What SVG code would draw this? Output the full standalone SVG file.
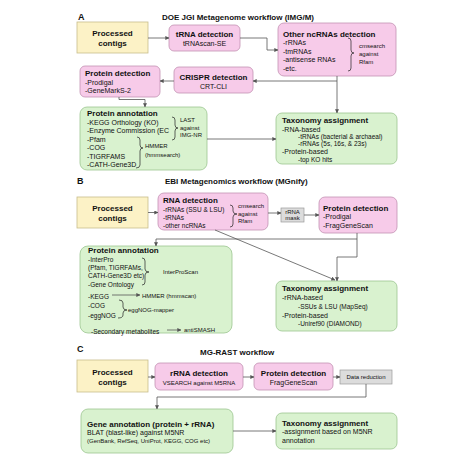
<svg xmlns="http://www.w3.org/2000/svg" width="474" height="459" viewBox="0 0 474 459">
<style>
text{font-family:"Liberation Sans",Arial,sans-serif;fill:#111}
.sec{font-size:9px;font-weight:bold}
.ttl{font-size:8px;font-weight:bold}
.t7{font-size:7px}
.t65{font-size:6.5px}
.t6{font-size:6px}
.c{text-anchor:middle}
.yel{fill:#fcf2c6;stroke:#c9bd8c;stroke-width:0.8}
.pink{fill:#f7cbe9;stroke:#c392b3;stroke-width:0.8}
.green{fill:#d9f2cf;stroke:#9cc590;stroke-width:0.8}
.gray{fill:#dcdcdc;stroke:#9a9a9a;stroke-width:0.7}
.ln{fill:none;stroke:#555;stroke-width:0.8}
.br{fill:none;stroke:#222;stroke-width:0.7}
</style>
<defs>
<marker id="ah" viewBox="0 0 6 6" refX="5.5" refY="3" markerWidth="4" markerHeight="4" markerUnits="userSpaceOnUse" orient="auto">
<path d="M0,0 L6,3 L0,6 z" fill="#555"/>
</marker>
</defs>

<!-- Section A -->
<text class="sec" x="78" y="19.5">A</text>
<text class="ttl" x="162" y="20">DOE JGI Metagenome workflow (IMG/M)</text>

<g id="a-processed">
<rect class="yel" x="77" y="22" width="71" height="31"/>
<text class="ttl c" x="112.5" y="36">Processed</text>
<text class="ttl c" x="112.5" y="46">contigs</text>
</g>
<g id="a-trna">
<rect class="pink" x="169" y="25" width="71" height="26" rx="5"/>
<text class="ttl c" x="204.5" y="37">tRNA detection</text>
<text class="t7 c" x="204.5" y="46">tRNAscan-SE</text>
</g>
<g id="a-ncrna">
<rect class="pink" x="278" y="23" width="118" height="53" rx="6"/>
<text class="ttl" x="283" y="37">Other ncRNAs detection</text>
<text class="t7" x="283" y="45">-rRNAs</text>
<text class="t7" x="283" y="53.5">-tmRNAs</text>
<text class="t7" x="283" y="62">-antisense RNAs</text>
<text class="t7" x="283" y="70.5">-etc.</text>
<path class="br" d="M348,38 Q351,38 351,41 L351,50 Q351,53 354,53 Q351,53 351,56 L351,68 Q351,71 348,71"/>
<text class="t6" x="359" y="48">cmsearch</text>
<text class="t6" x="359" y="56">against</text>
<text class="t6" x="359" y="63.5">Rfam</text>
</g>
<g id="a-crispr">
<rect class="pink" x="174" y="67" width="79" height="26" rx="5"/>
<text class="ttl c" x="213.5" y="79.5">CRISPR detection</text>
<text class="t7 c" x="213.5" y="88.5">CRT-CLI</text>
</g>
<g id="a-protdet">
<rect class="pink" x="80" y="66" width="80" height="31" rx="5"/>
<text class="ttl" x="85" y="75.5">Protein detection</text>
<text class="t7" x="85" y="84.5">-Prodigal</text>
<text class="t7" x="85" y="93">-GeneMarkS-2</text>
</g>
<g id="a-protann">
<rect class="green" x="80" y="107" width="127" height="63" rx="7"/>
<text class="ttl" x="87" y="116">Protein annotation</text>
<text class="t7" x="87" y="124.5">-KEGG Orthology (KO)</text>
<text class="t7" x="87" y="133">-Enzyme Commission (EC</text>
<text class="t7" x="87" y="141.5">-Pfam</text>
<text class="t7" x="87" y="150">-COG</text>
<text class="t7" x="87" y="158.5">-TIGRFAMS</text>
<text class="t7" x="87" y="167">-CATH-Gene3D</text>
<path class="br" d="M172,117 Q175,117 175,120 L175,125 Q175,128 178,128 Q175,128 175,131 L175,137 Q175,140 172,140"/>
<text class="t6" x="180" y="122">LAST</text>
<text class="t6" x="180" y="129.5">against</text>
<text class="t6" x="180" y="137">IMG-NR</text>
<path class="br" d="M137,137 Q140,137 140,140 L140,145 Q140,148 143,148 Q140,148 140,151 L140,165 Q140,168 136,168"/>
<text class="t6" x="145" y="148">HMMER</text>
<text class="t6" x="145" y="156.5">(hmmsearch)</text>
</g>
<g id="a-tax">
<rect class="green" x="276" y="113" width="121" height="51" rx="6"/>
<text class="ttl" x="282" y="122.5">Taxonomy assignment</text>
<text class="t7" x="282" y="131.5">-RNA-based</text>
<text class="t65" x="298" y="138.5">-tRNAs (bacterial &amp; archaeal)</text>
<text class="t65" x="298" y="146">-rRNAs (5s, 16s, &amp; 23s)</text>
<text class="t7" x="282" y="153.5">-Protein-based</text>
<text class="t65" x="298" y="162">-top KO hits</text>
</g>

<!-- Section B -->
<text class="sec" x="77" y="183.5">B</text>
<text class="ttl" x="165" y="184">EBI Metagenomics workflow (MGnify)</text>

<g id="b-processed">
<rect class="yel" x="77" y="197" width="71" height="31"/>
<text class="ttl c" x="112.5" y="211">Processed</text>
<text class="ttl c" x="112.5" y="221">contigs</text>
</g>
<g id="b-rna">
<rect class="pink" x="158" y="193" width="110" height="37" rx="6"/>
<text class="ttl" x="163" y="203">RNA detection</text>
<text class="t65" x="163" y="211.5">-rRNAs (SSU &amp; LSU)</text>
<text class="t65" x="163" y="219.5">-tRNAs</text>
<text class="t65" x="163" y="228">-other ncRNAs</text>
<path class="br" d="M230,205 Q233,205 233,208 L233,211 Q233,214 237,214 Q233,214 233,217 L233,224 Q233,227 230,227"/>
<text class="t6" x="238" y="208">cmsearch</text>
<text class="t6" x="238" y="215.5">against</text>
<text class="t6" x="238" y="223">Rfam</text>
</g>
<g id="b-mask">
<rect class="gray" x="281" y="208" width="23" height="14"/>
<text class="t6 c" x="292.5" y="214">rRNA</text>
<text class="t6 c" x="292.5" y="220">mask</text>
</g>
<g id="b-protdet">
<rect class="pink" x="319" y="197" width="78" height="36" rx="6"/>
<text class="ttl" x="323" y="210.5">Protein detection</text>
<text class="t7" x="323" y="219">-Prodigal</text>
<text class="t7" x="323" y="227.5">-FragGeneScan</text>
</g>
<g id="b-protann">
<rect class="green" x="80" y="246" width="152" height="87" rx="8"/>
<text class="ttl" x="88" y="253">Protein annotation</text>
<text class="t65" x="88" y="261.5">-InterPro</text>
<text class="t65" x="88" y="270">(Pfam, TIGRFAMs,</text>
<text class="t65" x="88" y="278">CATH-Gene3D etc)</text>
<text class="t65" x="88" y="286.5">-Gene Ontology</text>
<path class="br" d="M142,258 Q145,258 145,261 L145,269 Q145,272 149,272 Q145,272 145,275 L145,282 Q145,285 142,285"/>
<text class="t6" x="163" y="274">InterProScan</text>
<text class="t65" x="88" y="299">-KEGG</text>
<text class="t65" x="88" y="308">-COG</text>
<text class="t65" x="88" y="317.5">-eggNOG</text>
<path class="br" d="M119,300 Q123,300 123,303 L123,307 Q123,310 127,310 Q123,310 123,313 L123,315 Q123,318 118,318"/>
<text class="t6" x="128" y="312">eggNOG-mapper</text>
<text class="t6" x="142" y="297.5">HMMER (hmmscan)</text>
<text class="t65" x="91" y="334">-Secondary metabolites</text>
<text class="t6" x="184" y="331.5">antiSMASH</text>
</g>
<g id="b-tax">
<rect class="green" x="276" y="281" width="121" height="50" rx="6"/>
<text class="ttl" x="282" y="291">Taxonomy assignment</text>
<text class="t7" x="282" y="299.5">-rRNA-based</text>
<text class="t65" x="298" y="308.5">-SSUs &amp; LSU (MapSeq)</text>
<text class="t7" x="282" y="317.5">-Protein-based</text>
<text class="t65" x="298" y="326">-Uniref90 (DIAMOND)</text>
</g>

<!-- Section C -->
<text class="sec" x="77" y="351.5">C</text>
<text class="ttl" x="200" y="355">MG-RAST workflow</text>

<g id="c-processed">
<rect class="yel" x="77" y="360" width="71" height="32"/>
<text class="ttl c" x="112.5" y="374.5">Processed</text>
<text class="ttl c" x="112.5" y="384.5">contigs</text>
</g>
<g id="c-rrna">
<rect class="pink" x="155" y="363" width="88" height="27" rx="5"/>
<text class="ttl c" x="199" y="376">rRNA detection</text>
<text class="t6 c" x="199" y="384.5">VSEARCH against M5RNA</text>
</g>
<g id="c-protdet">
<rect class="pink" x="254" y="363" width="79" height="27" rx="5"/>
<text class="ttl c" x="293.5" y="376">Protein detection</text>
<text class="t7 c" x="293.5" y="385">FragGeneScan</text>
</g>
<g id="c-datared">
<rect class="gray" x="340" y="370" width="52" height="14"/>
<text class="t6 c" x="366" y="379.2">Data reduction</text>
</g>
<g id="c-geneann">
<rect class="green" x="81" y="409" width="152" height="44" rx="7"/>
<text class="ttl" x="87" y="427">Gene annotation (protein + rRNA)</text>
<text class="t7" x="87" y="435">BLAT (blast-like) against M5NR</text>
<text class="t6" x="87" y="442.5">(GenBank, RefSeq, UniProt, KEGG, COG etc)</text>
</g>
<g id="c-tax">
<rect class="green" x="276" y="413" width="121" height="36" rx="6"/>
<text class="ttl" x="282" y="425.5">Taxonomy assignment</text>
<text class="t7" x="282" y="434">-assignment based on M5NR</text>
<text class="t7" x="282" y="443">annotation</text>
</g>

<g id="connectors">
<path class="ln" marker-end="url(#ah)" d="M148,38 L169,38"/>
<path class="ln" marker-end="url(#ah)" d="M240,38 L267,38 L267,50 L278,50"/>
<path class="ln" marker-end="url(#ah)" d="M337,76 L337,113"/>
<path class="ln" marker-end="url(#ah)" d="M337,81 L253,81"/>
<path class="ln" marker-end="url(#ah)" d="M174,81 L160,81"/>
<path class="ln" marker-end="url(#ah)" d="M119,97 L119,99.5 L145,99.5 L145,107"/>
<path class="ln" marker-end="url(#ah)" d="M207,139 L276,139"/>

<path class="ln" marker-end="url(#ah)" d="M148,212.5 L158,212.5"/>
<path class="ln" marker-end="url(#ah)" d="M268,213 L281,213"/>
<path class="ln" marker-end="url(#ah)" d="M304,215 L319,215"/>
<path class="ln" marker-end="url(#ah)" d="M357,233 L357,257 L337,257 L337,281"/>
<path class="ln" marker-end="url(#ah)" d="M357,239 L156,239 L156,246"/>
<path class="ln" marker-end="url(#ah)" d="M215,230 L335,280"/>
<path class="ln" marker-end="url(#ah)" d="M112,295 L140,295"/>
<path class="ln" marker-end="url(#ah)" d="M167,330 L181,330"/>

<path class="ln" marker-end="url(#ah)" d="M148,377 L155,377"/>
<path class="ln" marker-end="url(#ah)" d="M243,377 L254,377"/>
<path class="ln" marker-end="url(#ah)" d="M333,377 L340,377"/>
<path class="ln" marker-end="url(#ah)" d="M366,384 L366,397 L157,397 L157,409"/>
<path class="ln" marker-end="url(#ah)" d="M233,431 L276,431"/>
</g>
</svg>
